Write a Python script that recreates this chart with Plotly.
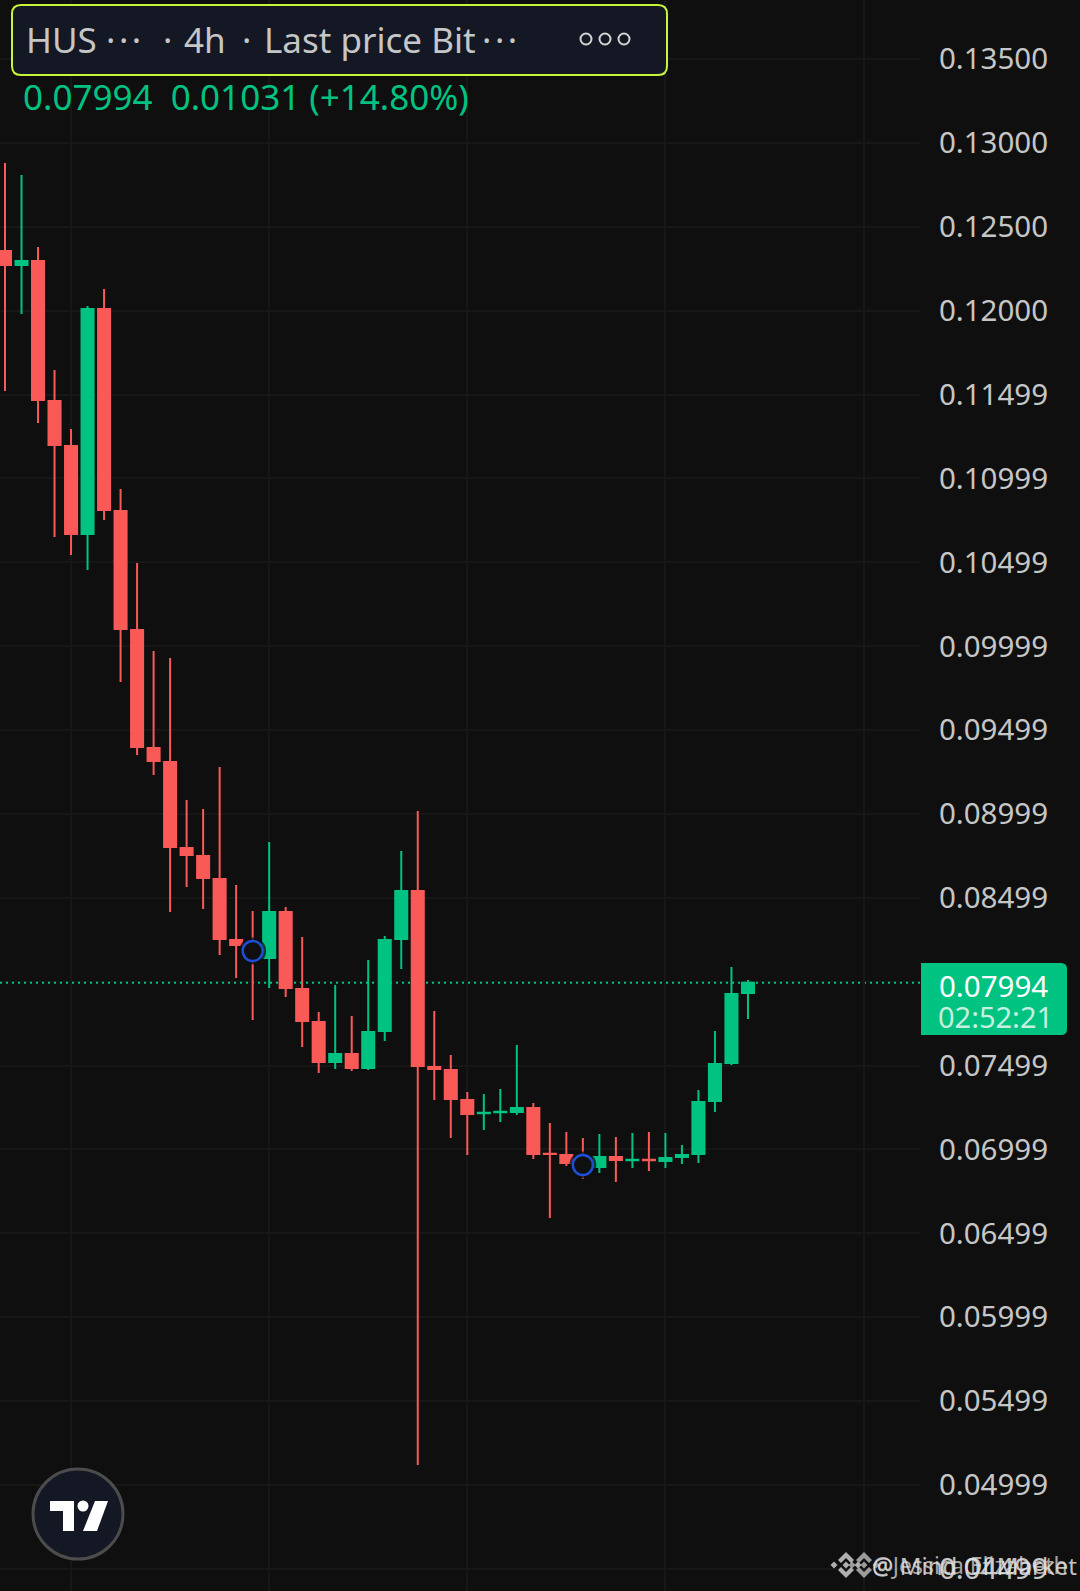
import plotly.graph_objects as go

# candles, oldest first
opens = [0.12356, 0.12272, 0.12296, 0.11462, 0.11193, 0.10669, 0.12010, 0.10806, 0.10097, 0.09393,
         0.09310, 0.08797, 0.08749, 0.08612, 0.08248, 0.08213, 0.08141, 0.08415, 0.07956, 0.07760,
         0.07521, 0.07569, 0.07485, 0.07706, 0.08254, 0.08541, 0.07491, 0.07473, 0.07295, 0.07216,
         0.07222, 0.07223, 0.07247, 0.06974, 0.06967, 0.06913, 0.06895, 0.06955, 0.06936, 0.06938,
         0.06931, 0.06955, 0.06973, 0.07289, 0.07515, 0.07932]
highs = [0.12881, 0.12809, 0.12380, 0.11646, 0.11295, 0.12028, 0.12129, 0.10937, 0.10496, 0.09971,
         0.09930, 0.09083, 0.09029, 0.09280, 0.08576, 0.08421, 0.08833, 0.08445, 0.08266, 0.07819,
         0.07980, 0.07795, 0.08129, 0.08272, 0.08779, 0.09017, 0.07825, 0.07563, 0.07342, 0.07330,
         0.07360, 0.07622, 0.07277, 0.07157, 0.07104, 0.07068, 0.07092, 0.07074, 0.07098, 0.07104,
         0.07098, 0.07026, 0.07354, 0.07706, 0.08087, 0.08010]
lows = [0.11521, 0.11980, 0.11330, 0.10651, 0.10544, 0.10454, 0.10752, 0.09787, 0.09351, 0.09232,
        0.08415, 0.08564, 0.08433, 0.08159, 0.08022, 0.07771, 0.07962, 0.07909, 0.07610, 0.07455,
        0.07479, 0.07467, 0.07473, 0.07646, 0.08075, 0.05119, 0.07295, 0.07068, 0.06967, 0.07116,
        0.07163, 0.07205, 0.06943, 0.06591, 0.06901, 0.06824, 0.06859, 0.06806, 0.06889, 0.06871,
        0.06889, 0.06913, 0.06919, 0.07223, 0.07503, 0.07777]
closes = [0.12272, 0.12296, 0.11468, 0.11199, 0.10669, 0.12010, 0.10812, 0.10103, 0.09399, 0.09316,
          0.08803, 0.08755, 0.08618, 0.08254, 0.08219, 0.08141, 0.08415, 0.07962, 0.07765, 0.07521,
          0.07569, 0.07485, 0.07700, 0.08248, 0.08541, 0.07497, 0.07479, 0.07301, 0.07211, 0.07218,
          0.07224, 0.07247, 0.06973, 0.06972, 0.06919, 0.06895, 0.06955, 0.06937, 0.06938, 0.06936,
          0.06949, 0.06967, 0.07283, 0.07509, 0.07926, 0.07994]
candle_index = list(range(len(opens)))

# 0.08 has no label, the price tag sits on it, so its grid line is added by hand below
price_ticks = [0.135, 0.13, 0.125, 0.12, 0.115, 0.11, 0.105, 0.10, 0.095, 0.09,
               0.085, 0.075, 0.07, 0.065, 0.06, 0.055, 0.05, 0.045]
price_labels = ['0.13500', '0.13000', '0.12500', '0.12000', '0.11499', '0.10999', '0.10499',
                '0.09999', '0.09499', '0.08999', '0.08499', '0.07499', '0.06999', '0.06499',
                '0.05999', '0.05499', '0.04999', '0.04499']
time_grid = [4, 16, 28, 40, 52]

# the two blue event circles
event_index = [15, 35]
event_price = [0.08183, 0.06907]

last_price = 0.07994

BG = '#0f0f0f'
UP = '#00c382'
DOWN = '#f95957'
GRID = '#171717'
PANEL = '#131824'
TEXT = '#c6c6c6'
FONT = 'Noto Sans'
W, H = 1080, 1591
PLOT_W = 920


# everything that is not data is placed in screen pixels
def px(x):
    return x / W


def py(y):
    return 1 - y / H


def round_rect(x0, y0, x1, y1, r_left, r_right):
    return (f'M {px(x0 + r_left)} {py(y0)} L {px(x1 - r_right)} {py(y0)} '
            f'Q {px(x1)} {py(y0)} {px(x1)} {py(y0 + r_right)} L {px(x1)} {py(y1 - r_right)} '
            f'Q {px(x1)} {py(y1)} {px(x1 - r_right)} {py(y1)} L {px(x0 + r_left)} {py(y1)} '
            f'Q {px(x0)} {py(y1)} {px(x0)} {py(y1 - r_left)} L {px(x0)} {py(y0 + r_left)} '
            f'Q {px(x0)} {py(y0)} {px(x0 + r_left)} {py(y0)} Z')


def poly(points):
    cmds = [f'{px(x)} {py(y)}' for x, y in points]
    return 'M ' + ' L '.join(cmds) + ' Z'


def circle(cx, cy, r, fill, line, width):
    return dict(type='circle', xref='paper', yref='paper',
                x0=px(cx - r), x1=px(cx + r), y0=py(cy + r), y1=py(cy - r),
                fillcolor=fill, line=dict(color=line, width=width))


def path(d, fill, line='rgba(0,0,0,0)', width=0):
    return dict(type='path', xref='paper', yref='paper', path=d,
                fillcolor=fill, line=dict(color=line, width=width))


def label(x, y, text, size, color, anchor='left'):
    return dict(xref='paper', yref='paper', x=px(x), y=py(y), text=text, showarrow=False,
                xanchor=anchor, yanchor='middle', font=dict(family=FONT, size=size, color=color))


fig = go.Figure()
fig.add_trace(go.Candlestick(
    x=candle_index, open=opens, high=highs, low=lows, close=closes,
    whiskerwidth=0,
    increasing=dict(line=dict(color=UP, width=2), fillcolor=UP),
    decreasing=dict(line=dict(color=DOWN, width=2), fillcolor=DOWN),
    showlegend=False))
fig.add_trace(go.Scatter(
    x=event_index, y=event_price, mode='markers', showlegend=False,
    marker=dict(size=27, color=BG, opacity=0.75, line=dict(width=0))))
fig.add_trace(go.Scatter(
    x=event_index, y=event_price, mode='markers', showlegend=False,
    marker=dict(size=20, color=BG, line=dict(color='#1d4fd6', width=2.5))))

shapes = [
    dict(type='line', xref='paper', yref='y', x0=0, x1=px(PLOT_W), y0=0.08, y1=0.08, layer='below',
         line=dict(color=GRID, width=2)),
    dict(type='line', xref='paper', yref='y', x0=0, x1=px(PLOT_W), y0=last_price, y1=last_price, layer='below',
         line=dict(color=UP, width=2, dash='2px,4px')),
    path(round_rect(12, 5, 667, 75, 9, 9), PANEL, '#c8f53c', 2),
    path(round_rect(921, 963, 1067, 1035, 0, 6), UP),
]
for cx in [586, 605, 624]:
    shapes.append(circle(cx, 39, 5.5, 'rgba(0,0,0,0)', '#d4d4d4', 2))

# TradingView badge
shapes.append(circle(78, 1514, 45, PANEL, '#4c4c4c', 3))
shapes.append(path(poly([(50, 1501), (74, 1501), (74, 1531), (63, 1531), (63, 1511), (50, 1511)]), '#ffffff'))
shapes.append(circle(83, 1506, 5.5, '#ffffff', '#ffffff', 0))
shapes.append(path(poly([(95, 1501), (108, 1501), (97, 1531), (83, 1531)]), '#ffffff'))

# binance style logos of the two stacked watermarks
for cx, alpha in [(846, 0.8), (864, 0.7)]:
    cy = 1565
    color = f'rgba(215,215,215,{alpha})'
    for dx in [-12, 0, 12]:
        shapes.append(path(poly([(cx + dx - 3.5, cy), (cx + dx, cy - 3.5),
                                 (cx + dx + 3.5, cy), (cx + dx, cy + 3.5)]), color))
    for s in [-1, 1]:
        shapes.append(path(poly([(cx, cy + s * 13), (cx + 8, cy + s * 5), (cx + 5, cy + s * 2),
                                 (cx, cy + s * 7), (cx - 5, cy + s * 2), (cx - 8, cy + s * 5)]), color))

DOTS = '\u00b7\u200a\u00b7\u200a\u00b7'
annotations = [
    label(24, 39, 'HUS', 35, TEXT),
    label(104, 39, DOTS, 35, TEXT),
    label(161, 39, '\u00b7', 35, TEXT),
    label(182, 39, '4h', 35, TEXT),
    label(240, 39, '\u00b7', 35, TEXT),
    label(262, 39, 'Last price Bit', 35, TEXT),
    label(480, 39, DOTS, 35, TEXT),
    label(21, 97, '0.07994\u00a0\u00a00.01031 (+14.80%)', 35, UP),
    label(993, 985, '0.07994', 29.5, '#ffffff', 'center'),
    label(995, 1016, '02:52:21', 29, '#c5efdf', 'center'),
    label(870, 1565, '@Jessica Elizabeth', 23, 'rgba(215,215,215,0.75)'),
    label(870, 1565, '@ Mind Of Market', 24, 'rgba(225,225,225,0.85)'),
]

fig.update_layout(
    width=W, height=H,
    margin=dict(l=0, r=0, t=0, b=0),
    paper_bgcolor=BG, plot_bgcolor=BG,
    boxgap=0.27, boxgroupgap=0,
    shapes=shapes, annotations=annotations,
    showlegend=False,
    xaxis=dict(domain=[0, PLOT_W / W], range=[-0.303, 55.42], rangeslider=dict(visible=False),
               tickmode='array', tickvals=time_grid, showticklabels=False,
               showgrid=True, gridcolor=GRID, gridwidth=2, zeroline=False, showline=False),
    yaxis=dict(side='right', range=[0.043674, 0.138523], tickmode='array',
               tickvals=price_ticks, ticktext=price_labels,
               tickfont=dict(family=FONT, size=29.5, color=TEXT),
               ticks='outside', ticklen=12, tickcolor=BG,
               showgrid=True, gridcolor=GRID, gridwidth=2, zeroline=False, showline=False,
               automargin=False),
)

fig.write_html("out.html", config={'displayModeBar': False},
               post_script="document.body.style.margin='0';")
